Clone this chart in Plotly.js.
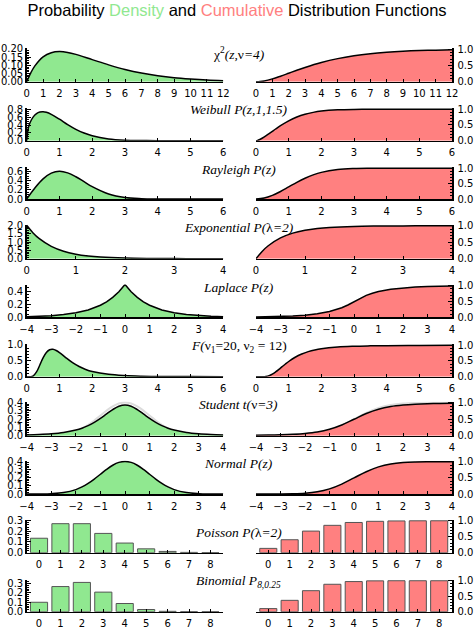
<!DOCTYPE html>
<html>
<head>
<meta charset="utf-8">
<script src="https://cdn.plot.ly/plotly-3.0.1.min.js"></script>
<style>
  html, body { margin: 0; padding: 0; background: #fff; }
  #chart { width: 474px; height: 628px; }
</style>
</head>
<body>
<div id="chart"></div>
<script>
// ---- Chi-square, nu = 4 ----
const chiX   = [0, 0.25, 0.5, 1, 1.5, 2, 2.5, 3, 4, 5, 6, 7, 8, 9, 10, 11, 12];
const chiPdf = [0, 0.055, 0.097, 0.152, 0.177, 0.184, 0.179, 0.167, 0.135, 0.103, 0.075, 0.053, 0.037, 0.025, 0.017, 0.011, 0.007];
const chiCdf = [0, 0.007, 0.026, 0.090, 0.173, 0.264, 0.355, 0.442, 0.594, 0.713, 0.801, 0.864, 0.908, 0.939, 0.960, 0.973, 0.983];

// ---- Weibull (1, 1.5) ----
const weiX   = [0, 0.05, 0.1, 0.2, 0.3, 0.4, 0.5, 0.6, 0.75, 1, 1.25, 1.5, 1.75, 2, 2.5, 3, 3.5, 4, 5, 6];
const weiPdf = [0, 0.332, 0.460, 0.613, 0.697, 0.737, 0.745, 0.730, 0.678, 0.552, 0.415, 0.293, 0.196, 0.125, 0.046, 0.014, 0.004, 0.001, 0, 0];
const weiCdf = [0, 0.011, 0.031, 0.086, 0.152, 0.224, 0.298, 0.372, 0.478, 0.632, 0.753, 0.841, 0.901, 0.941, 0.981, 0.995, 0.999, 1.0, 1.0, 1.0];

// ---- Rayleigh ----
const rayX   = [0, 0.25, 0.5, 0.75, 1, 1.25, 1.5, 1.75, 2, 2.5, 3, 3.5, 4, 5, 6];
const rayPdf = [0, 0.242, 0.441, 0.566, 0.607, 0.572, 0.487, 0.379, 0.271, 0.110, 0.033, 0.008, 0.001, 0, 0];
const rayCdf = [0, 0.031, 0.118, 0.245, 0.393, 0.542, 0.675, 0.784, 0.865, 0.956, 0.989, 0.998, 1.0, 1.0, 1.0];

// ---- Exponential, lambda = 2 ----
const expX   = [0, 0.125, 0.25, 0.5, 0.75, 1, 1.25, 1.5, 2, 2.5, 3, 3.5, 4];
const expPdf = [2.0, 1.558, 1.213, 0.736, 0.446, 0.271, 0.164, 0.100, 0.037, 0.013, 0.005, 0.002, 0.001];
const expCdf = [0, 0.221, 0.393, 0.632, 0.777, 0.865, 0.918, 0.950, 0.982, 0.993, 0.998, 0.999, 1.0];

// ---- Laplace ----
const lapX   = [-4, -3.5, -3, -2.5, -2, -1.5, -1, -0.75, -0.5, -0.25, 0, 0.25, 0.5, 0.75, 1, 1.5, 2, 2.5, 3, 3.5, 4];
const lapPdf = [0.009, 0.015, 0.025, 0.041, 0.068, 0.112, 0.184, 0.236, 0.303, 0.389, 0.5, 0.389, 0.303, 0.236, 0.184, 0.112, 0.068, 0.041, 0.025, 0.015, 0.009];
const lapCdf = [0.009, 0.015, 0.025, 0.041, 0.068, 0.112, 0.184, 0.236, 0.303, 0.389, 0.5, 0.611, 0.697, 0.764, 0.816, 0.888, 0.932, 0.959, 0.975, 0.985, 0.991];

// ---- F, nu1 = 20, nu2 = 12 ----
const fX   = [0, 0.1, 0.2, 0.3, 0.4, 0.5, 0.6, 0.7, 0.8, 0.9, 1.0, 1.2, 1.4, 1.6, 1.8, 2.0, 2.5, 3, 3.5, 4, 5, 6];
const fPdf = [0, 0.0004, 0.026, 0.149, 0.367, 0.596, 0.764, 0.850, 0.863, 0.826, 0.760, 0.595, 0.441, 0.320, 0.229, 0.165, 0.074, 0.035, 0.017, 0.009, 0.003, 0.001];
const fCdf = [0, 0, 0.001, 0.009, 0.034, 0.082, 0.151, 0.232, 0.319, 0.404, 0.483, 0.619, 0.722, 0.798, 0.852, 0.891, 0.945, 0.969, 0.981, 0.988, 0.994, 0.997];

// ---- Student t, nu = 3 ----
const stuX    = [-4, -3.5, -3, -2.5, -2, -1.75, -1.5, -1.25, -1, -0.75, -0.5, -0.25, 0, 0.25, 0.5, 0.75, 1, 1.25, 1.5, 1.75, 2, 2.5, 3, 3.5, 4];
const stuPdf  = [0.009, 0.014, 0.023, 0.039, 0.068, 0.090, 0.120, 0.159, 0.207, 0.261, 0.313, 0.353, 0.368, 0.353, 0.313, 0.261, 0.207, 0.159, 0.120, 0.090, 0.068, 0.039, 0.023, 0.014, 0.009];
const stuCdfX = [-4, -3.5, -3, -2.5, -2, -1.5, -1, -0.5, 0, 0.5, 1, 1.5, 2, 2.5, 3, 3.5, 4];
const stuCdf  = [0.014, 0.020, 0.029, 0.044, 0.070, 0.115, 0.196, 0.326, 0.5, 0.674, 0.804, 0.885, 0.930, 0.956, 0.971, 0.980, 0.986];

// ---- Normal ----
const norX    = [-4, -3.5, -3, -2.5, -2, -1.75, -1.5, -1.25, -1, -0.75, -0.5, -0.25, 0, 0.25, 0.5, 0.75, 1, 1.25, 1.5, 1.75, 2, 2.5, 3, 3.5, 4];
const norPdf  = [0.0001, 0.0009, 0.0044, 0.0175, 0.054, 0.0863, 0.1295, 0.1826, 0.242, 0.3011, 0.3521, 0.3867, 0.3989, 0.3867, 0.3521, 0.3011, 0.242, 0.1826, 0.1295, 0.0863, 0.054, 0.0175, 0.0044, 0.0009, 0.0001];
const norCdfX = [-4, -3.5, -3, -2.5, -2, -1.5, -1, -0.5, 0, 0.5, 1, 1.5, 2, 2.5, 3, 3.5, 4];
const norCdf  = [0.0, 0.0002, 0.0013, 0.0062, 0.0228, 0.0668, 0.1587, 0.3085, 0.5, 0.6915, 0.8413, 0.9332, 0.9772, 0.9938, 0.9987, 0.9998, 1.0];

// ---- Poisson, lambda = 2 ----
const poiK   = [0, 1, 2, 3, 4, 5, 6, 7, 8];
const poiPmf = [0.135, 0.271, 0.271, 0.180, 0.090, 0.036, 0.012, 0.003, 0.001];
const poiCdf = [0.135, 0.406, 0.677, 0.857, 0.947, 0.983, 0.995, 0.999, 1.0];

// ---- Binomial, n = 8, p = 0.25 ----
const binK   = [0, 1, 2, 3, 4, 5, 6, 7, 8];
const binPmf = [0.100, 0.267, 0.311, 0.208, 0.087, 0.023, 0.004, 0.0004, 0.0];
const binCdf = [0.100, 0.367, 0.679, 0.886, 0.973, 0.996, 1.0, 1.0, 1.0];

// ---- drawing ----
const W = 474, H = 628;
const GREEN = '#90e890', RED = '#ff8080';
const SANS = 'Liberation Sans, Arial, sans-serif';
const TICK_SANS = 'DejaVu Sans, Liberation Sans, sans-serif';
const SERIF = 'Liberation Serif, Times New Roman, serif';

// panel rows: top and bottom pixel of each plot area
const rowPx = [[48, 81.8], [108, 140.7], [167, 199], [224.5, 258.7], [284.5, 317.3],
               [344, 376.7], [401.5, 435.7], [460.5, 494], [519.5, 552.7], [579.5, 611.7]];
const leftDom = [26.7 / W, 223.3 / W];
const rightDom = [256 / W, 452 / W];

const rows = [
  {x: [0, 12], xt: 1, ymax: 0.206, dt: 0.05, mdt: 0.01, fmt: '.2f', title: 'χ<sup>2</sup><i>(z,</i>ν<i>=4)</i>', ty: 53},
  {x: [0, 6], xt: 1, ymax: 0.84, dt: 0.2, mdt: 0.05, fmt: '.1f', title: '<i>Weibull P(z,1,1.5)</i>', ty: 109},
  {x: [0, 6], xt: 1, ymax: 0.70, dt: 0.2, mdt: 0.05, fmt: '.1f', title: '<i>Rayleigh P(z)</i>', ty: 169},
  {x: [0, 4], xt: 1, ymax: 2.05, dt: 0.5, mdt: 0.1, fmt: '.1f', title: '<i>Exponential P(</i>λ<i>=2)</i>', ty: 228},
  {x: [-4, 4], xt: 1, ymax: 0.5, dt: 0.2, mdt: 0.05, fmt: '.1f', title: '<i>Laplace P(z)</i>', ty: 287},
  {x: [0, 6], xt: 1, ymax: 1.03, dt: 0.5, mdt: 0.1, fmt: '.1f', title: '<i>F(</i>ν<sub>1</sub>=20, ν<sub>2</sub> = 12)', ty: 346},
  {x: [-4, 4], xt: 1, ymax: 0.41, dt: 0.1, mdt: 0.02, fmt: '.1f', title: '<i>Student t(</i>ν<i>=3)</i>', ty: 404},
  {x: [-4, 4], xt: 1, ymax: 0.41, dt: 0.1, mdt: 0.02, fmt: '.1f', title: '<i>Normal P(z)</i>', ty: 463},
  {x: [-0.575, 8.6], xt: 1, ymax: 0.31, dt: 0.1, mdt: 0.02, fmt: '.1f', title: '<i>Poisson P(</i>λ<i>=2)</i>', ty: 532},
  {x: [-0.575, 8.6], xt: 1, ymax: 0.342, dt: 0.1, mdt: 0.02, fmt: '.1f', title: '<i>Binomial P<sub>8,0.25</sub></i>', ty: 581}
];

function curve(xs, ys, i, right, color, shape) {
  const n = 2 * i + (right ? 2 : 1);
  return {type: 'scatter', mode: 'lines', x: xs, y: ys, xaxis: 'x' + n, yaxis: 'y' + n,
          fill: 'tozeroy', fillcolor: color, line: {color: 'black', width: 1.5, shape: shape || 'spline'},
          hoverinfo: 'skip'};
}
// light grey reference curve drawn underneath a filled curve
function ghost(xs, ys, i, right) {
  const n = 2 * i + (right ? 2 : 1);
  return {type: 'scatter', mode: 'lines', x: xs, y: ys, xaxis: 'x' + n, yaxis: 'y' + n,
          line: {color: '#dcdcdc', width: 2, shape: 'spline'}, hoverinfo: 'skip'};
}
function bars(xs, ys, i, right, color) {
  const n = 2 * i + (right ? 2 : 1);
  return {type: 'bar', x: xs, y: ys, width: 0.8, xaxis: 'x' + n, yaxis: 'y' + n,
          marker: {color: color, line: {color: '#555', width: 1}}, hoverinfo: 'skip'};
}

const traces = [
  curve(chiX, chiPdf, 0, false, GREEN), curve(chiX, chiCdf, 0, true, RED),
  curve(weiX, weiPdf, 1, false, GREEN), curve(weiX, weiCdf, 1, true, RED),
  curve(rayX, rayPdf, 2, false, GREEN), curve(rayX, rayCdf, 2, true, RED),
  curve(expX, expPdf, 3, false, GREEN), curve(expX, expCdf, 3, true, RED),
  curve(lapX, lapPdf, 4, false, GREEN, 'linear'), curve(lapX, lapCdf, 4, true, RED, 'linear'),
  curve(fX, fPdf, 5, false, GREEN), curve(fX, fCdf, 5, true, RED),
  ghost(norX, norPdf, 6, false), curve(stuX, stuPdf, 6, false, GREEN),
  ghost(norCdfX, norCdf, 6, true), curve(stuCdfX, stuCdf, 6, true, RED),
  curve(norX, norPdf, 7, false, GREEN), curve(norCdfX, norCdf, 7, true, RED),
  bars(poiK, poiPmf, 8, false, GREEN), bars(poiK, poiCdf, 8, true, RED),
  bars(binK, binPmf, 9, false, GREEN), bars(binK, binCdf, 9, true, RED)
];

const layout = {
  width: W, height: H,
  margin: {l: 0, r: 0, t: 0, b: 0},
  paper_bgcolor: 'white', plot_bgcolor: 'white',
  showlegend: false,
  hovermode: false,
  title: {
    text: 'Probability <span style="color:' + GREEN + '">Density</span> and <span style="color:' + RED + '">Cumulative</span> Distribution Functions',
    x: 0.5, xref: 'paper', xanchor: 'center',
    y: 1 - 10 / H, yref: 'paper', yanchor: 'middle',
    font: {family: SANS, size: 16.5, color: 'black'}
  },
  annotations: []
};

const tickFont = {family: TICK_SANS, size: 10, color: 'black'};

rows.forEach((r, i) => {
  const [top, bot] = rowPx[i];
  const dom = [1 - bot / H, 1 - top / H];
  const nl = 2 * i + 1, nr = 2 * i + 2;
  const xbase = {
    showline: true, linecolor: 'black', linewidth: 1.5,
    ticks: 'inside', ticklen: 3, tickcolor: 'black', tickwidth: 1,
    tickmode: 'linear', tick0: 0, dtick: r.xt,
    tickfont: tickFont, showgrid: false, zeroline: false, fixedrange: true,
    ticklabelstandoff: 2,
    range: r.x
  };
  layout['xaxis' + nl] = Object.assign({}, xbase, {domain: leftDom, anchor: 'y' + nl});
  layout['xaxis' + nr] = Object.assign({}, xbase, {domain: rightDom, anchor: 'y' + nr});
  layout['yaxis' + nl] = {
    domain: dom, anchor: 'x' + nl, side: 'left', range: [0, r.ymax],
    showline: true, linecolor: 'black', linewidth: 1.5,
    ticks: 'inside', ticklen: 4, tickcolor: 'black', tickwidth: 1,
    tickmode: 'linear', tick0: 0, dtick: r.dt, tickformat: r.fmt,
    minor: {ticks: 'inside', dtick: r.mdt, ticklen: 2, tickcolor: 'black', tickwidth: 1},
    tickfont: tickFont, showgrid: false, zeroline: false, fixedrange: true,
    ticklabelstandoff: 0
  };
  layout['yaxis' + nr] = {
    domain: dom, anchor: 'x' + nr, side: 'right', range: [0, 1.04],
    showline: true, linecolor: 'black', linewidth: 1.5,
    ticks: 'inside', ticklen: 4, tickcolor: 'black', tickwidth: 1,
    tickmode: 'linear', tick0: 0, dtick: 0.5, tickformat: '.1f',
    minor: {ticks: 'inside', dtick: 0.1, ticklen: 2, tickcolor: 'black', tickwidth: 1},
    tickfont: tickFont, showgrid: false, zeroline: false, fixedrange: true,
    ticklabelstandoff: 2
  };
  layout.annotations.push({
    text: r.title, xref: 'paper', yref: 'paper',
    x: 239 / W, y: 1 - r.ty / H, xanchor: 'center', yanchor: 'middle',
    showarrow: false, font: {family: SERIF, size: 13.5, color: 'black'}
  });
});

Plotly.newPlot('chart', traces, layout, {staticPlot: true, displayModeBar: false});
</script>
</body>
</html>
